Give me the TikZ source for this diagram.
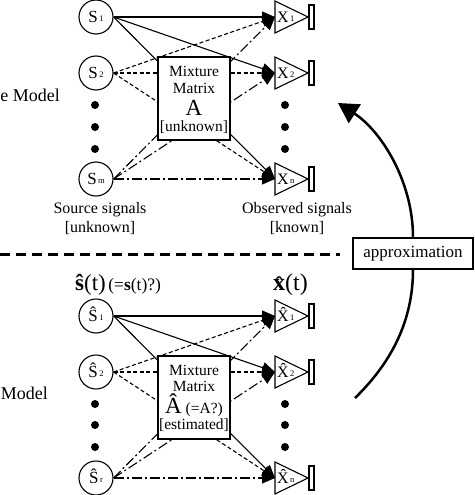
\documentclass[tikz,border=0pt]{standalone}
\usepackage{fontspec}
\setmainfont{Liberation Serif}
\usetikzlibrary{arrows.meta}
\newcommand\mysub[1]{\raisebox{1pt}{\fontsize{8.5}{8.5}\selectfont\,#1}}
\newcommand\hatbx{\ooalign{\textbf{x}\cr\hidewidth\raisebox{-3pt}{ˆ}\hidewidth\cr}}
\newcommand\recv[3]{%
  \coordinate (#1) at (275,#2);
  \draw[tri] (275,{#2-16}) -- (275,{#2+16}) -- (308,#2) -- cycle;
  \draw[line width=1.1pt] (309,{#2-12}) rectangle (314,{#2+12});
  \node[lab] (#1l) at (277,#2) {#3};
}
\begin{document}
\begin{tikzpicture}[x=1pt,y=-1pt,
 src/.style={circle,draw,line width=1.1pt,minimum size=34pt,inner sep=0pt,font=\fontsize{17}{17}\selectfont,text height=11pt,text depth=0pt},
 blob/.style={circle,fill,inner sep=0pt,minimum size=8pt},
 tri/.style={draw,line width=1.1pt,fill=white},
 lab/.style={inner sep=0pt,font=\fontsize{16}{16}\selectfont,anchor=west,text height=10.5pt,text depth=0pt},
 sol/.style={line width=1.1pt,-{Triangle[length=13pt,width=11pt]}},
 dsh/.style={sol,dash pattern=on 4pt off 2.5pt},
 ddot/.style={sol,dash pattern=on 10pt off 3pt on 2pt off 3pt},
 mix/.style={draw,line width=1.4pt,fill=white,minimum width=72pt,minimum height=83pt,inner sep=0pt},
 mtxt/.style={inner sep=0pt,anchor=base,font=\fontsize{15.5}{15.5}\selectfont},
 captxt/.style={inner sep=0pt,anchor=base,font=\fontsize{16}{16}\selectfont},
]
\useasboundingbox (0,0) rectangle (474,495);

% ---------- top model ----------
\node[src] (s1) at (96,17) {S\mysub{1}};
\node[src] (s2) at (96,73) {S\mysub{2}};
\node[src] (sm) at (96,179) {S\mysub{m}};
\node[blob] (ld1) at (95,105) {};
\node[blob] (ld2) at (95,127) {};
\node[blob] (ld3) at (95,149) {};
\recv{x1}{17}{X\mysub{1}}
\recv{x2}{73}{X\mysub{2}}
\recv{xn}{179}{X\mysub{n}}
\node[blob] (rd1) at (285,105) {};
\node[blob] (rd2) at (285,127) {};
\node[blob] (rd3) at (285,149) {};

\draw[sol] (s1.east) -- (x1);
\draw[sol] (s1.east) -- (x2);
\draw[sol] (s1.east) -- (xn);
\draw[dsh] (s2.east) -- (x1);
\draw[dsh] (s2.east) -- (x2);
\draw[dsh] (s2.east) -- (xn);
\draw[ddot] (sm.east) -- (x1);
\draw[ddot] (sm.east) -- (x2);
\draw[ddot] (sm.east) -- (xn);

\node[mix] (A) at (194,98.5) {};
\node[mtxt] (A1) at (194,77) {Mixture};
\node[mtxt] (A2) at (194,93) {Matrix};
\node[mtxt,font=\fontsize{23}{23}\selectfont] (A3) at (194,115) {A};
\node[mtxt] (A4) at (194,131) {[unknown]};

\node[captxt] (c1) at (100,213) {Source signals};
\node[captxt] (c2) at (100,232) {[unknown]};
\node[captxt] (c3) at (297,213) {Observed signals};
\node[captxt] (c4) at (297,232) {[known]};
\node[inner sep=0pt,anchor=base east,font=\fontsize{18}{18}\selectfont] (m1) at (60,101) {e Model};

% ---------- separator ----------
\draw[line width=3pt,dash pattern=on 10pt off 6pt] (0,254) -- (340,254);

% ---------- approximation ----------
\node[draw,line width=1.1pt,minimum width=120pt,minimum height=31pt,inner sep=0pt,font=\fontsize{17}{17}\selectfont] (ap) at (413,253.5) {approximation};
\draw[line width=2.5pt,-{Triangle[length=20pt,width=22pt]}] (ap.north) .. controls (413,180) and (380,130) .. (338,103);
\draw[line width=2.5pt] (ap.south) .. controls (413,320) and (392,362) .. (355,398);

% ---------- bottom model ----------
\node[inner sep=0pt,anchor=base west] (st) at (75,290) {{\fontsize{23}{23}\selectfont\textbf{ŝ}(t)} {\fontsize{17.5}{17.5}\selectfont(=\textbf{s}(t)?)}};
\node[inner sep=0pt,anchor=base west] (xt) at (273,290) {\fontsize{24}{24}\selectfont\hatbx(t)};

\node[src] (t1) at (96,316) {Ŝ\mysub{1}};
\node[src] (t2) at (96,372) {Ŝ\mysub{2}};
\node[src] (tr) at (96,478) {Ŝ\mysub{r}};
\node[blob] (ld4) at (95,404) {};
\node[blob] (ld5) at (95,425) {};
\node[blob] (ld6) at (95,447) {};
\recv{y1}{316}{\^{X}\mysub{1}}
\recv{y2}{372}{\^{X}\mysub{2}}
\recv{yn}{478}{\^{X}\mysub{n}}
\node[blob] (rd4) at (285,404) {};
\node[blob] (rd5) at (285,425) {};
\node[blob] (rd6) at (285,447) {};

\draw[sol] (t1.east) -- (y1);
\draw[sol] (t1.east) -- (y2);
\draw[sol] (t1.east) -- (yn);
\draw[dsh] (t2.east) -- (y1);
\draw[dsh] (t2.east) -- (y2);
\draw[dsh] (t2.east) -- (yn);
\draw[ddot] (tr.east) -- (y1);
\draw[ddot] (tr.east) -- (y2);
\draw[ddot] (tr.east) -- (yn);

\node[mix] (B) at (194,397.5) {};
\node[mtxt] (B1) at (194,375) {Mixture};
\node[mtxt] (B2) at (194,391) {Matrix};
\node[mtxt] (B3) at (194,413) {{\fontsize{23}{23}\selectfont Â} (=A?)};
\node[mtxt] (B4) at (194,429) {[estimated]};
\node[inner sep=0pt,anchor=base east,font=\fontsize{18}{18}\selectfont] (m2) at (48,399) {Model};
\end{tikzpicture}
\end{document}
